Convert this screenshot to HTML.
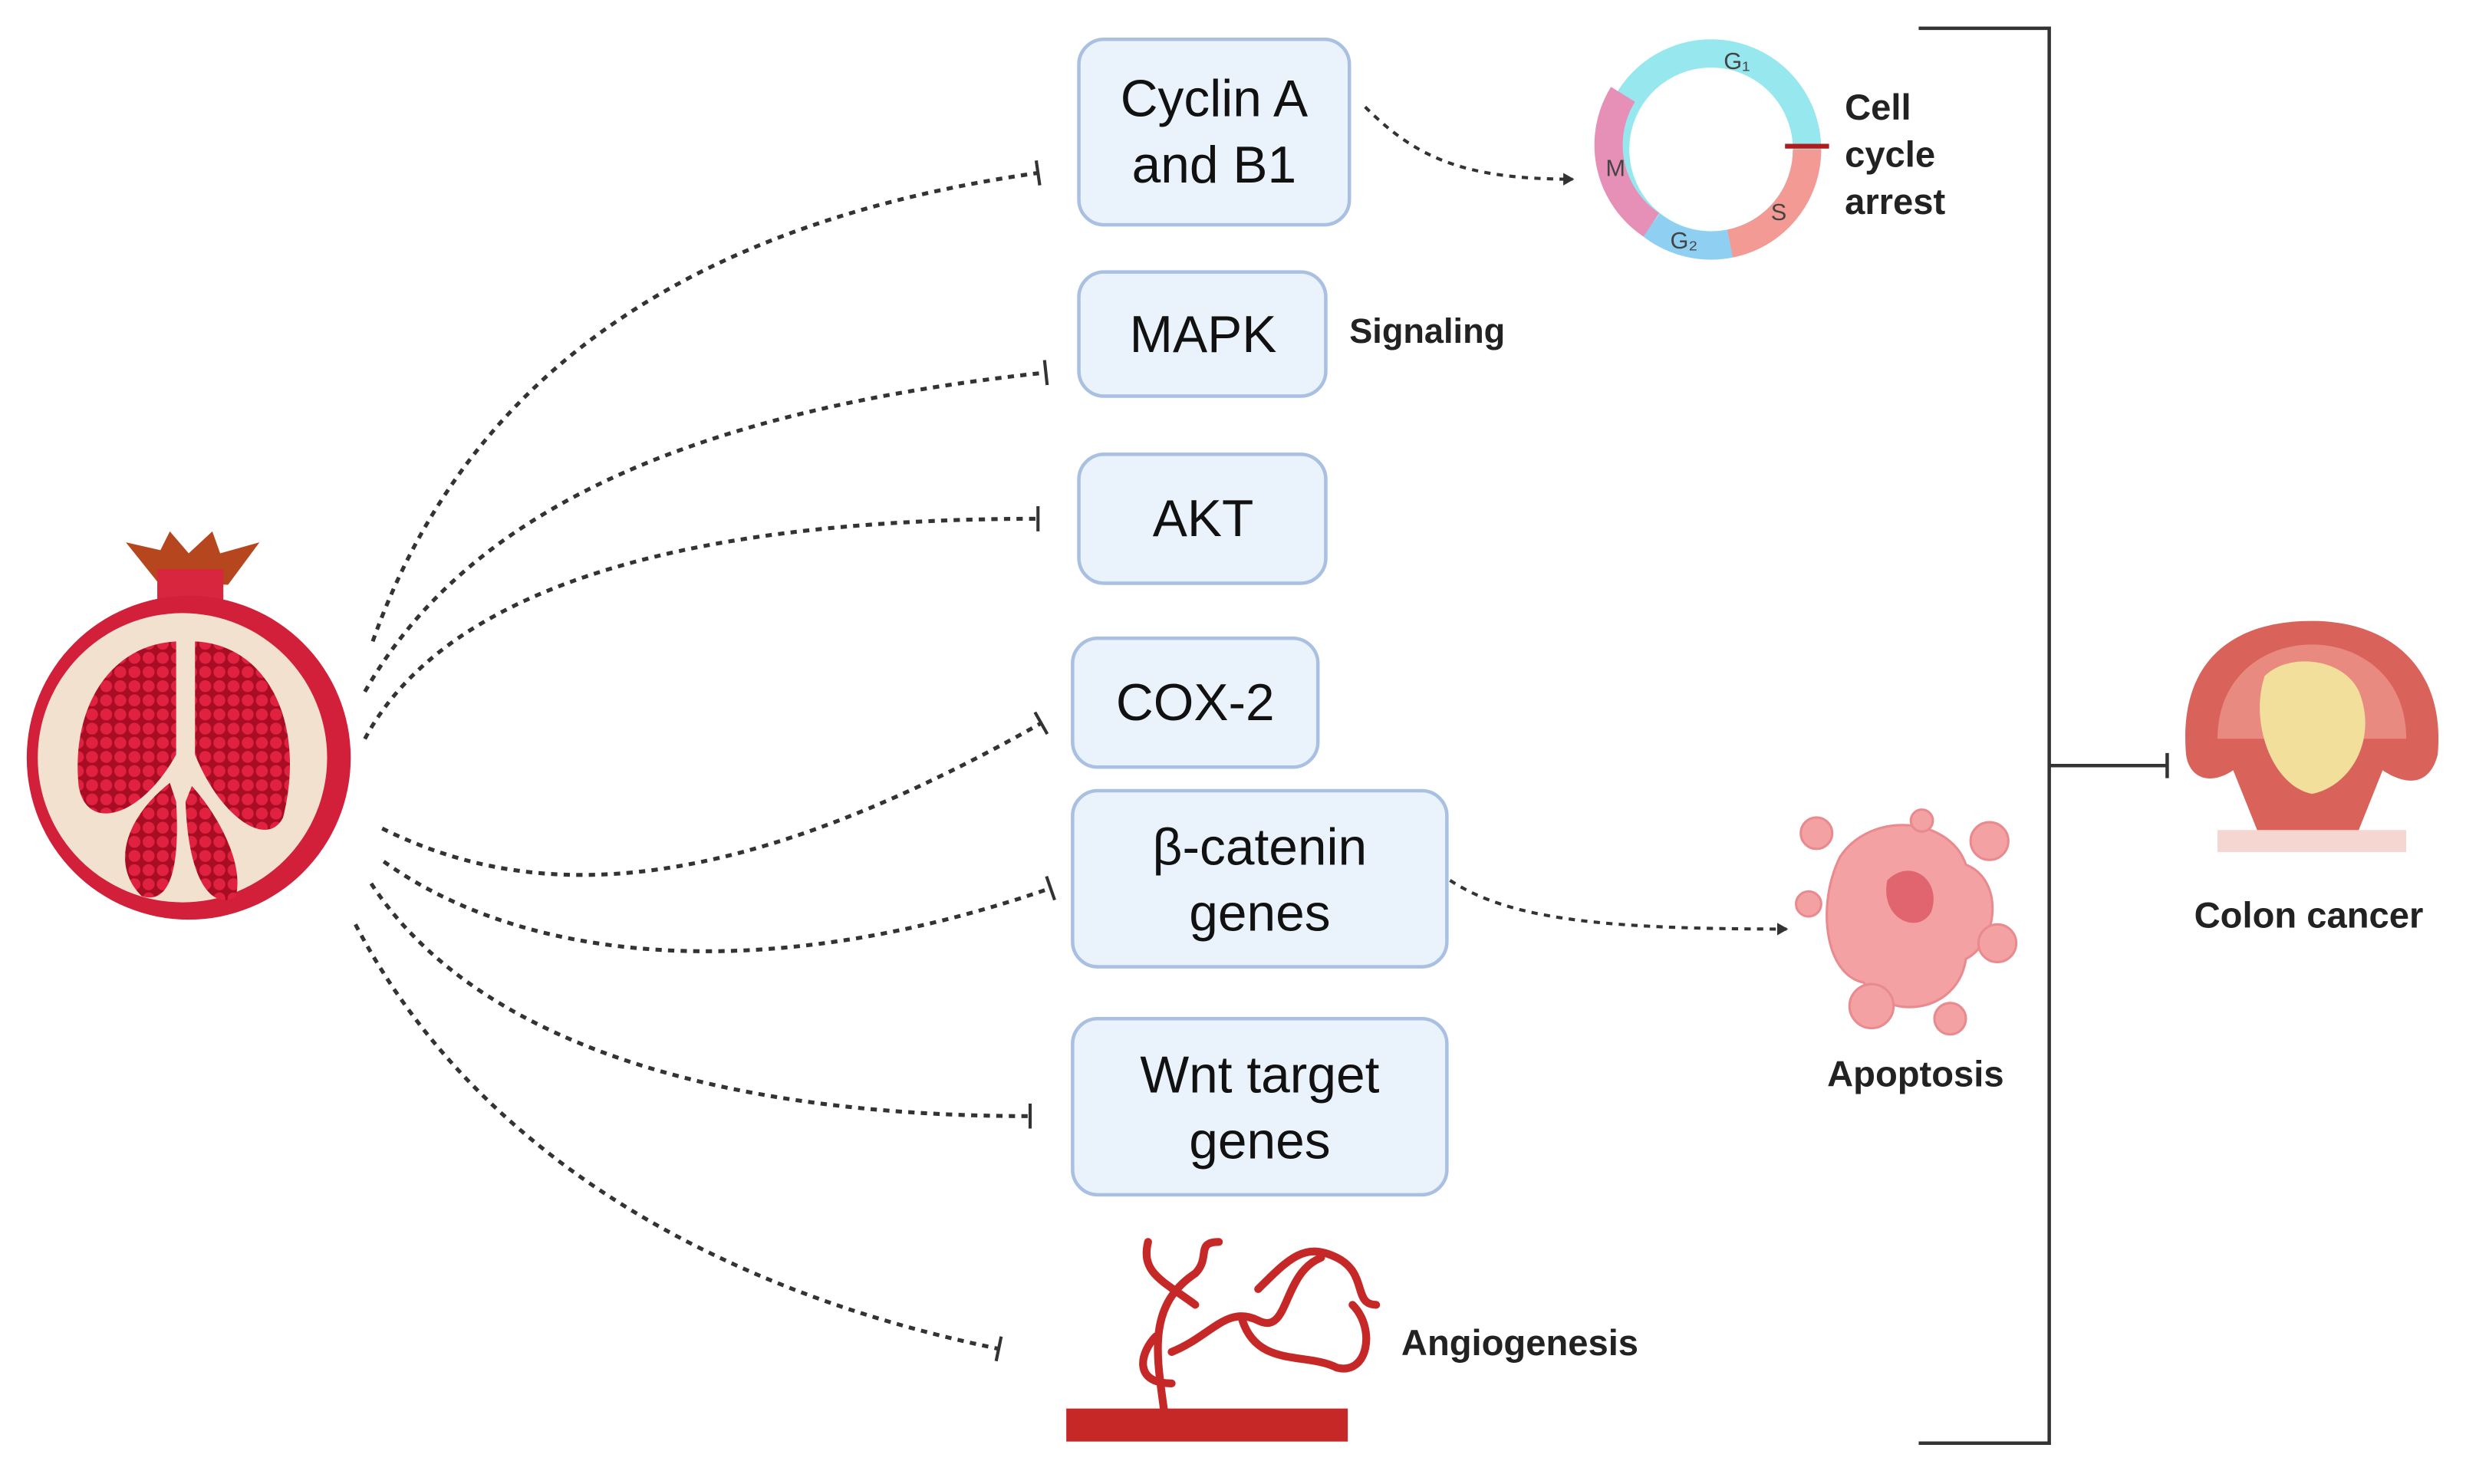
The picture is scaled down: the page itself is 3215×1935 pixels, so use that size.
<!DOCTYPE html>
<html><head><meta charset="utf-8"><style>
html,body{margin:0;padding:0;background:#fff}
svg{display:block}
</style></head><body>
<svg width="3215" height="1935" viewBox="0 0 1568 944" preserveAspectRatio="none" xmlns="http://www.w3.org/2000/svg" font-family="Liberation Sans, Arial, sans-serif">
<defs>
<marker id="ar" markerWidth="8" markerHeight="8" refX="6" refY="4" orient="auto" markerUnits="userSpaceOnUse"><path d="M0,0 L7,4 L0,8z" fill="#333"/></marker>
<marker id="tee" markerWidth="4" markerHeight="16" refX="2" refY="8" orient="auto" markerUnits="userSpaceOnUse"><path d="M2,0 L2,16" stroke="#333" stroke-width="2"/></marker>
<pattern id="seeds" width="9" height="9" patternUnits="userSpaceOnUse"><rect width="9" height="9" fill="#a80d24"/><circle cx="4.5" cy="4.5" r="3.8" fill="#e0213f"/></pattern>
</defs>
<g fill="none" stroke="#333" stroke-width="2.5" stroke-dasharray="4,4">
<path d="M237,408 C300,230 450,140 660,110" marker-end="url(#tee)"/>
<path d="M232,440 C300,320 450,260 665,237" marker-end="url(#tee)"/>
<path d="M232,470 C280,380 420,330 660,330" marker-end="url(#tee)"/>
<path d="M243,527 C330,570 450,580 662,460" marker-end="url(#tee)"/>
<path d="M244,548 C330,610 480,630 668,565" marker-end="url(#tee)"/>
<path d="M236,562 C300,660 450,710 655,710" marker-end="url(#tee)"/>
<path d="M226,588 C300,730 450,820 635,858" marker-end="url(#tee)"/>
<path d="M868,68 C900,100 930,114 1000,114" stroke-width="2" marker-end="url(#ar)"/>
<path d="M922,560 C960,585 1020,591 1136,591" stroke-width="2" marker-end="url(#ar)"/>
</g>
<g fill="#eaf3fc" stroke="#a9c0e2" stroke-width="2.2">
<rect x="686" y="25" width="172" height="118" rx="16"/>
<rect x="686" y="173" width="157" height="79" rx="16"/>
<rect x="686" y="289" width="157" height="82" rx="16"/>
<rect x="682" y="406" width="156" height="82" rx="16"/>
<rect x="682" y="503" width="238" height="112" rx="16"/>
<rect x="682" y="648" width="238" height="112" rx="16"/>
</g>
<g fill="#111" font-size="33" text-anchor="middle">
<text x="772" y="74">Cyclin A</text><text x="772" y="116">and B1</text>
<text x="765" y="224">MAPK</text>
<text x="765" y="341">AKT</text>
<text x="760" y="458">COX-2</text>
<text x="801" y="550">β-catenin</text><text x="801" y="592">genes</text>
<text x="801" y="695">Wnt target</text><text x="801" y="737">genes</text>
</g>
<g fill="#222" font-size="23" font-weight="bold">
<text x="1173" y="76">Cell</text><text x="1173" y="106">cycle</text><text x="1173" y="136">arrest</text>
<text x="858" y="218" font-size="22">Signaling</text>
<text x="1218" y="691" text-anchor="middle">Apoptosis</text>
<text x="1468" y="590" text-anchor="middle">Colon cancer</text>
<text x="891" y="862">Angiogenesis</text>
</g>
<g stroke="#333" stroke-width="2.2" fill="none">
<path d="M1220,18 H1303 V918 H1220"/>
<path d="M1303,487 H1378 M1378,479 V495"/>
</g>
<g fill="none" stroke-width="18">
<circle cx="1088" cy="95" r="61" stroke="#97e8ee"/>
<path d="M1149,95 A61,61 0 0 1 1100,155" stroke="#f39a94"/>
<path d="M1100,155 A61,61 0 0 1 1050,143" stroke="#8fd0f2"/>
<path d="M1050,143 A61,61 0 0 1 1032,60" stroke="#e690b8"/>
</g>
<path d="M1135,93 H1163" stroke="#b01c1c" stroke-width="3"/>
<g font-size="15" fill="#444"><text x="1096" y="44">G₁</text><text x="1021" y="112">M</text><text x="1062" y="158">G₂</text><text x="1126" y="140">S</text></g>
<g>
<path d="M100,370 L80,345 L102,350 L108,338 L120,352 L135,338 L140,352 L165,345 L145,372 Z" fill="#b5461e"/>
<rect x="100" y="362" width="42" height="30" fill="#d7263d"/>
<circle cx="120" cy="482" r="103" fill="#d21f3a"/>
<circle cx="116" cy="482" r="92" fill="#f2e1cf"/>
<g fill="url(#seeds)">
<path d="M112,408 C70,410 45,450 50,500 C55,530 90,520 112,480 Z"/>
<path d="M124,408 C170,410 195,460 180,520 C170,540 140,520 124,480 Z"/>
<path d="M108,498 C80,520 70,550 90,570 C105,575 115,560 112,510 Z"/>
<path d="M122,500 C140,520 155,550 150,570 C140,578 120,570 118,510 Z"/>
</g>
</g>
<g fill="#f3a1a3" stroke="#e88a8e" stroke-width="1.5">
<path d="M1170,545 C1190,515 1240,520 1250,550 C1275,560 1270,600 1250,610 C1245,645 1200,650 1185,625 C1160,620 1155,575 1170,545Z"/>
<circle cx="1155" cy="530" r="10"/><circle cx="1265" cy="535" r="12"/><circle cx="1270" cy="600" r="12"/>
<circle cx="1190" cy="640" r="14"/><circle cx="1240" cy="648" r="10"/><circle cx="1150" cy="575" r="8"/>
<circle cx="1222" cy="522" r="7"/>
</g>
<path d="M1200,560 C1215,545 1235,560 1228,580 C1220,595 1195,585 1200,560Z" fill="#e0656e"/>
<path d="M1390,480 C1385,420 1420,395 1470,395 C1520,395 1555,425 1550,480 C1545,500 1530,500 1515,490 L1495,540 L1440,540 L1420,490 C1405,500 1392,495 1390,480Z" fill="#d9625a"/>
<path d="M1410,470 C1410,430 1440,410 1470,410 C1500,410 1530,430 1530,470 Z" fill="#e88a80"/>
<path d="M1440,430 C1455,415 1490,418 1500,440 C1512,470 1495,500 1470,505 C1445,500 1430,460 1440,430Z" fill="#f2df9c"/>
<rect x="1410" y="528" width="120" height="14" fill="#f6d6d0"/>
<rect x="678" y="896" width="179" height="21" fill="#c62828"/>
<g fill="none" stroke="#c62828" stroke-width="5" stroke-linecap="round">
<path d="M740,896 C735,860 730,830 760,810 C770,800 760,790 775,790"/>
<path d="M745,860 C770,850 780,830 800,840 C820,850 815,810 840,800"/>
<path d="M760,830 C740,815 725,810 730,790"/>
<path d="M790,840 C800,870 830,860 850,870 C870,875 875,845 860,830"/>
<path d="M800,820 C820,800 830,790 850,800 C870,810 860,830 875,830"/>
<path d="M745,880 C720,880 725,860 735,850"/>
</g>
</svg>
</body></html>
